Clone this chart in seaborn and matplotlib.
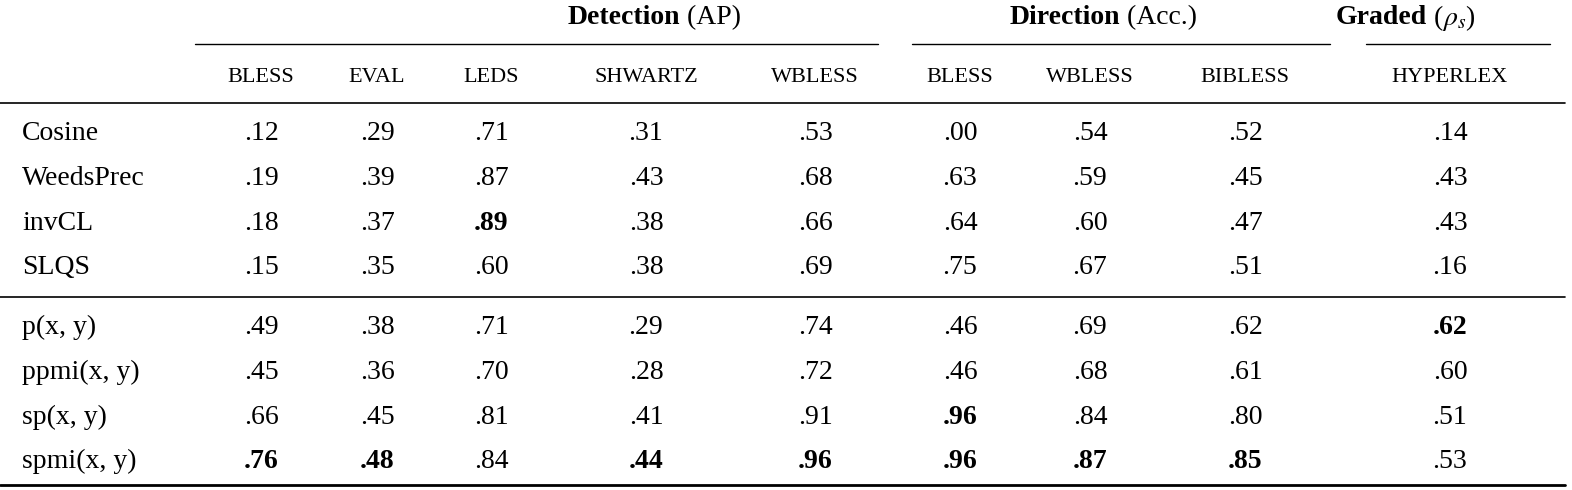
import matplotlib
matplotlib.use("Agg")
import matplotlib.pyplot as plt
import seaborn as sns

sns.set_theme(style="white")
plt.rcParams['font.family'] = ['Liberation Serif', 'DejaVu Serif']
plt.rcParams['mathtext.fontset'] = 'stix'
plt.rcParams['text.color'] = 'black'

columns = ["BLESS", "EVAL", "LEDS", "SHWARTZ", "WBLESS", "BLESS", "WBLESS", "BIBLESS", "HYPERLEX"]
methods = ["Cosine", "WeedsPrec", "invCL", "SLQS", "p(x, y)", "ppmi(x, y)", "sp(x, y)", "spmi(x, y)"]
values = [
    [".12", ".29", ".71", ".31", ".53", ".00", ".54", ".52", ".14"],
    [".19", ".39", ".87", ".43", ".68", ".63", ".59", ".45", ".43"],
    [".18", ".37", ".89", ".38", ".66", ".64", ".60", ".47", ".43"],
    [".15", ".35", ".60", ".38", ".69", ".75", ".67", ".51", ".16"],
    [".49", ".38", ".71", ".29", ".74", ".46", ".69", ".62", ".62"],
    [".45", ".36", ".70", ".28", ".72", ".46", ".68", ".61", ".60"],
    [".66", ".45", ".81", ".41", ".91", ".96", ".84", ".80", ".51"],
    [".76", ".48", ".84", ".44", ".96", ".96", ".87", ".85", ".53"],
]
bold_cells = [(2, 2), (4, 8), (6, 5), (7, 0), (7, 1), (7, 3), (7, 4), (7, 5), (7, 6), (7, 7)]

col_x = [261, 377, 491, 646, 815, 960, 1090, 1245, 1450]
row_y = [133, 178, 223, 267, 327, 372, 417, 461]

fig = plt.figure(figsize=(15.72, 4.9), dpi=100)
ax = fig.add_axes([0, 0, 1, 1])
ax.set_xlim(0, 1572)
ax.set_ylim(490, 0)
ax.axis("off")

fs = 20
groups = [("Detection", " (AP)", 680, 195, 878),
          ("Direction", " (Acc.)", 1120, 912, 1330),
          ("Graded", r" ($\rho_s$)", 1427, 1366, 1550)]
for b, n, xs, x0, x1 in groups:
    ax.text(xs, 18, b, fontsize=fs, fontweight="bold", ha="right", va="center", color="black")
    ax.text(xs, 18, n, fontsize=fs, ha="left", va="center", color="black")
    ax.plot([x0, x1], [44, 44], color="black", lw=1)

for x, c in zip(col_x, columns):
    ax.text(x, 77, c, fontsize=16, ha="center", va="center", color="black")

ax.plot([0, 1565], [103, 103], color="black", lw=1.2)
ax.plot([0, 1565], [297, 297], color="black", lw=1.2)
ax.plot([0, 1565], [485, 485], color="black", lw=2)

for i, (m, y) in enumerate(zip(methods, row_y)):
    ax.text(22, y, m, fontsize=fs, ha="left", va="center", color="black")
    for j, x in enumerate(col_x):
        w = "bold" if (i, j) in bold_cells else "normal"
        ax.text(x, y, values[i][j], fontsize=fs, ha="center", va="center", fontweight=w, color="black")

fig.savefig("out.png", dpi=100)
